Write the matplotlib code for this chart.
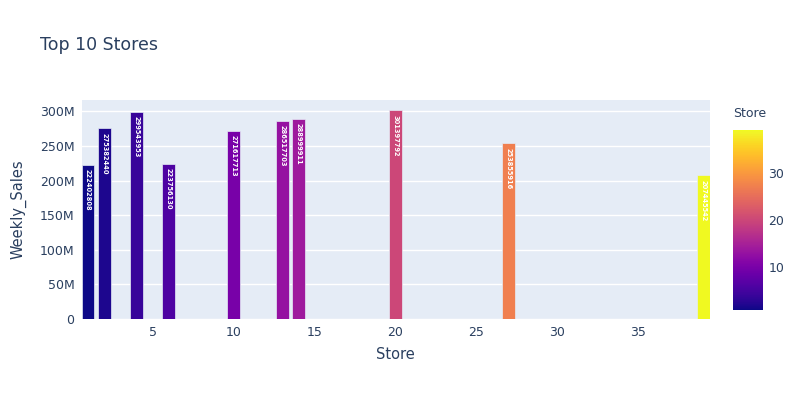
import matplotlib
matplotlib.use("Agg")
import matplotlib.pyplot as plt
import numpy as np
from matplotlib import cm, colors
from matplotlib.ticker import FuncFormatter

stores = [1, 2, 4, 6, 10, 13, 14, 20, 27, 39]
sales = [222402808, 275382440, 299543953, 223756130, 271617713,
         286517703, 288999911, 301397792, 253855916, 207445542]
title = "Top 10 Stores"

fig = plt.figure(figsize=(8, 4), dpi=100)
fig.patch.set_facecolor("white")
ax = fig.add_axes([0.1019, 0.2025, 0.785, 0.5475])
ax.set_facecolor("#E5ECF6")

norm = colors.Normalize(vmin=min(stores), vmax=max(stores))
cmap = plt.get_cmap("plasma")
ax.bar(stores, sales, width=0.8, color=[cmap(norm(s)) for s in stores],
       edgecolor="#E5ECF6", linewidth=0.5, zorder=3)
for s, v in zip(stores, sales):
    ax.annotate(str(v), (s, v), xytext=(0, -3), textcoords="offset points",
                ha="center", va="top", rotation=-90, fontsize=4.8, color="white",
                fontweight="bold", zorder=4)

ax.set_xlim(0.6, 39.4)
ax.set_ylim(0, 316.5e6)
ax.set_xticks([5, 10, 15, 20, 25, 30, 35])
ax.set_yticks([0, 50e6, 100e6, 150e6, 200e6, 250e6, 300e6])
ax.yaxis.set_major_formatter(FuncFormatter(lambda v, p: "0" if v == 0 else f"{int(v/1e6)}M"))
ax.grid(axis="y", color="white", linewidth=1, zorder=0)
for sp in ax.spines.values():
    sp.set_visible(False)
ax.tick_params(length=0, labelsize=9, colors="#2a3f5f", pad=5)
ax.set_xlabel("Store", fontsize=10.5, color="#2a3f5f", labelpad=6)
ax.set_ylabel("Weekly_Sales", fontsize=10.5, color="#2a3f5f", labelpad=10)

fig.text(0.05, 0.887, title, fontsize=12.5, color="#2a3f5f", va="center")

cax = fig.add_axes([0.916, 0.225, 0.0375, 0.45])
cb = fig.colorbar(cm.ScalarMappable(norm=norm, cmap=cmap), cax=cax)
cb.outline.set_visible(False)
cb.set_ticks([10, 20, 30])
cax.tick_params(length=0, labelsize=9, colors="#2a3f5f", pad=4)
fig.text(0.916, 0.70, "Store", fontsize=9, color="#2a3f5f", va="bottom")

fig.savefig("out.png", dpi=100)
